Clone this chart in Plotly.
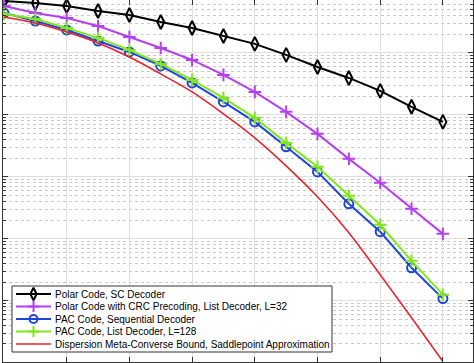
import plotly.graph_objects as go

snr = [1.0, 1.25, 1.5, 1.75, 2.0, 2.25, 2.5, 2.75, 3.0, 3.25, 3.5, 3.75, 4.0, 4.25, 4.5]

polar_sc = [0.69, 0.64, 0.573, 0.475, 0.41, 0.316, 0.253, 0.188, 0.14, 0.093,
            0.0594, 0.0395, 0.0244, 0.0135, 0.0077]
polar_crc = [0.573, 0.441, 0.367, 0.272, 0.181, 0.12, 0.0771, 0.0442, 0.0235, 0.0112,
             0.00494, 0.00195, 0.0008, 0.000305, 0.00012]
pac_seq = [0.441, 0.328, 0.235, 0.156, 0.1038, 0.0617, 0.0328, 0.0162, 0.0077, 0.00305,
           0.0012, 0.000367, 0.00013, 3.4e-5, 1.08e-5]
pac_list = [0.426, 0.353, 0.253, 0.175, 0.112, 0.0665, 0.0367, 0.0188, 0.00895, 0.00353,
            0.00145, 0.000494, 0.000168, 4.4e-5, 1.25e-5]
bound = [0.381, 0.305, 0.218, 0.145, 0.0861, 0.0458, 0.0235, 0.0104, 0.00426, 0.0015,
         0.000475, 0.000125, 2.62e-5, 5.3e-6, 1.04e-6]

names = ["Polar Code, SC Decoder",
         "Polar Code with CRC Precoding, List Decoder, L=32",
         "PAC Code, Sequential Decoder",
         "PAC Code, List Decoder, L=128",
         "Dispersion Meta-Converse Bound, Saddlepoint Approximation"]

colors = ["black", "#b540f0", "#1f45d8", "#80e81a", "#e8202a"]
markers = [dict(symbol="diamond-tall-open", size=10),
           dict(symbol="cross-thin-open", size=9),
           dict(symbol="circle-open", size=9),
           dict(symbol="cross-thin-open", size=9),
           None]
series = [polar_sc, polar_crc, pac_seq, pac_list, bound]

fig = go.Figure()
for i, ys in enumerate(series):
    c = colors[i]
    if markers[i] is not None:
        fig.add_trace(go.Scatter(
            x=snr, y=ys, name=names[i], mode="lines+markers",
            line=dict(color=c, width=2),
            marker=dict(symbol=markers[i]["symbol"], size=markers[i]["size"], color=c,
                        line=dict(width=2, color=c)),
            showlegend=False))
    else:
        fig.add_trace(go.Scatter(
            x=snr, y=ys, name=names[i], mode="lines",
            line=dict(color=c, width=1.5, shape="spline"), showlegend=False))

# ---- custom legend (compact rows like the original) on a pixel-space overlay ----
box_l, box_r, box_t, box_b = 12, 332, 286, 352
row_y = [294, 306.5, 319, 331.5, 344]
samp_l, samp_r, txt_x = 16, 51, 53

fig.add_trace(go.Scatter(
    x=[box_l, box_r, box_r, box_l, box_l], y=[box_t, box_t, box_b, box_b, box_t],
    xaxis="x2", yaxis="y2", mode="lines", fill="toself", fillcolor="white",
    line=dict(color="#333333", width=1), showlegend=False, hoverinfo="skip"))
for i in range(5):
    c = colors[i]
    fig.add_trace(go.Scatter(
        x=[samp_l, samp_r], y=[row_y[i], row_y[i]], xaxis="x2", yaxis="y2",
        mode="lines", line=dict(color=c, width=2 if i < 4 else 1.5),
        showlegend=False, hoverinfo="skip"))
    if markers[i] is not None:
        fig.add_trace(go.Scatter(
            x=[(samp_l + samp_r) / 2], y=[row_y[i]], xaxis="x2", yaxis="y2",
            mode="markers",
            marker=dict(symbol=markers[i]["symbol"], size=markers[i]["size"] - 1, color=c,
                        line=dict(width=2, color=c)),
            showlegend=False, hoverinfo="skip"))
    fig.add_annotation(x=txt_x, y=row_y[i], xref="x2", yref="y2", text=names[i],
                       showarrow=False, xanchor="left", yanchor="middle",
                       font=dict(size=10, color="black",
                                 family="Liberation Sans, Arial, sans-serif"))

fig.update_layout(
    width=474, height=363,
    margin=dict(l=3, r=1, t=0, b=1),
    paper_bgcolor="white", plot_bgcolor="white",
    font=dict(family="Liberation Sans, Arial, sans-serif", size=10, color="black"),
    showlegend=False,
    xaxis2=dict(overlaying="x", range=[3, 473], visible=False, showgrid=False),
    yaxis2=dict(overlaying="y", range=[362, 0], visible=False, showgrid=False),
)
fig.update_xaxes(selector=dict(anchor="y"))
fig.update_layout(
    xaxis=dict(range=[0.992, 4.74], dtick=0.5, tick0=1.0, showticklabels=False,
               showgrid=True, gridcolor="#dedede", gridwidth=1,
               ticks="inside", ticklen=5, tickcolor="#333333",
               showline=True, linecolor="#333333", linewidth=1, mirror="ticks",
               zeroline=False),
    yaxis=dict(type="log", range=[-5.99, -0.145], dtick=1, showticklabels=False,
               showgrid=True, gridcolor="#dedede", gridwidth=1,
               ticks="inside", ticklen=5, tickcolor="#333333",
               minor=dict(ticks="inside", ticklen=3, tickcolor="#333333",
                          showgrid=True, gridcolor="#c8c8c8", griddash="dot"),
               showline=True, linecolor="#333333", linewidth=1, mirror="ticks",
               zeroline=False),
)

fig.write_html("out.html")
